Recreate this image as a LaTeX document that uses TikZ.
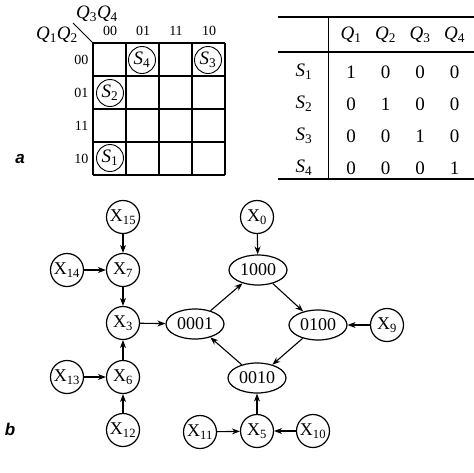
\documentclass[tikz,border=0pt]{standalone}
\usepackage{fontspec}
\setmainfont{Liberation Serif}
\newfontfamily\panelfont{Liberation Sans}
\usetikzlibrary{shapes.geometric,arrows.meta}

\newcommand{\qv}[1]{\textit{Q}\textsubscript{#1}}
\newcommand{\sv}[1]{\textit{S}\textsubscript{#1}}
\newcommand{\xv}[1]{X\textsubscript{#1}}

\tikzset{
  xnode/.style={circle, draw, line width=1.2pt, minimum size=33pt, inner sep=0pt, font=\fontsize{18}{18}\selectfont},
  snode/.style={ellipse, draw, line width=1.2pt, minimum width=58pt, minimum height=30pt, inner sep=0pt, font=\fontsize{18}{18}\selectfont},
  kcirc/.style={circle, draw, line width=0.9pt, minimum size=27pt, inner sep=0pt, font=\fontsize{19}{19}\selectfont},
  edge/.style={-{Stealth[length=8pt,width=6pt]}, line width=1.1pt},
  lbl/.style={font=\fontsize{14}{14}\selectfont},
  tbl/.style={font=\fontsize{19}{19}\selectfont}
}

\begin{document}
\begin{tikzpicture}[x=1pt,y=-1pt]
\useasboundingbox (0,0) rectangle (474,472);

% Karnaugh map
\foreach \i in {0,...,4}
{
  \draw[line width=1.4pt] (93+33*\i,43) -- (93+33*\i,175);
  \draw[line width=1.4pt] (93,43+33*\i) -- (225,43+33*\i);
}
\draw[line width=0.8pt] (73,23) -- (93,43);
\node[tbl] (q34) at (97,14) {\qv{3}\qv{4}};
\node[tbl] (q12) at (57,35) {\qv{1}\qv{2}};
\foreach \c [count=\k from 0] in {00,01,11,10}
  \node[lbl] (col\c) at (110+33*\k,31) {\c};
\foreach \r [count=\k from 0] in {00,01,11,10}
  \node[lbl, anchor=east] (row\r) at (92,60+33*\k) {\r};
\node[kcirc] (ks4) at (142,60) {\sv{4}};
\node[kcirc] (ks3) at (208,60) {\sv{3}};
\node[kcirc] (ks2) at (110,93) {\sv{2}};
\node[kcirc] (ks1) at (110,158) {\sv{1}};
\node[font=\panelfont\itshape\bfseries\fontsize{17}{17}\selectfont] (pa) at (20,159) {a};

% state table
\draw[line width=1.6pt] (278,17) -- (474,17);
\draw[line width=1.4pt] (278,52) -- (474,52);
\draw[line width=1.4pt] (278,179) -- (474,179);
\draw[line width=1pt] (328,17) -- (328,179);
\foreach \q [count=\k from 0] in {1,2,3,4}
  \node[tbl] (hq\q) at (351+34.5*\k,35) {\qv{\q}};
\foreach \s/\a/\b/\c/\d [count=\j from 0] in {1/1/0/0/0, 2/0/1/0/0, 3/0/0/1/0, 4/0/0/0/1}
{
  \node[tbl] (ts\s) at (304,72+32*\j) {\sv{\s}};
  \node[tbl] (t\s a) at (351,72+32*\j) {\a};
  \node[tbl] (t\s b) at (385.5,72+32*\j) {\b};
  \node[tbl] (t\s c) at (420,72+32*\j) {\c};
  \node[tbl] (t\s d) at (454.5,72+32*\j) {\d};
}

% state graph
\node[xnode] (x15) at (123,217) {\xv{15}};
\node[xnode] (x14) at (67,270) {\xv{14}};
\node[xnode] (x7) at (123,270) {\xv{7}};
\node[xnode] (x3) at (123,323) {\xv{3}};
\node[xnode] (x13) at (67,377) {\xv{13}};
\node[xnode] (x6) at (123,377) {\xv{6}};
\node[xnode] (x12) at (123,430) {\xv{12}};
\node[snode] (n0001) at (195,324) {0001};
\node[xnode] (x0) at (257,217) {\xv{0}};
\node[snode] (n1000) at (258,270) {1000};
\node[snode] (n0100) at (318,325) {0100};
\node[xnode] (x9) at (387,325) {\xv{9}};
\node[snode] (n0010) at (257,378) {0010};
\node[xnode] (x11) at (200,432) {\xv{11}};
\node[xnode] (x5) at (257,431) {\xv{5}};
\node[xnode] (x10) at (313,431) {\xv{10}};
\node[font=\panelfont\itshape\bfseries\fontsize{17}{17}\selectfont] (pb) at (10,429) {b};

\draw[edge] (x15) -- (x7);
\draw[edge] (x14) -- (x7);
\draw[edge] (x7) -- (x3);
\draw[edge] (x6) -- (x3);
\draw[edge] (x13) -- (x6);
\draw[edge] (x12) -- (x6);
\draw[edge] (x3) -- (n0001);
\draw[edge] (n0001) -- (n1000);
\draw[edge] (x0) -- (n1000);
\draw[edge] (n1000) -- (n0100);
\draw[edge] (x9) -- (n0100);
\draw[edge] (n0100) -- (n0010);
\draw[edge] (n0010) -- (n0001);
\draw[edge] (x5) -- (n0010);
\draw[edge] (x11) -- (x5);
\draw[edge] (x10) -- (x5);
\end{tikzpicture}
\end{document}
